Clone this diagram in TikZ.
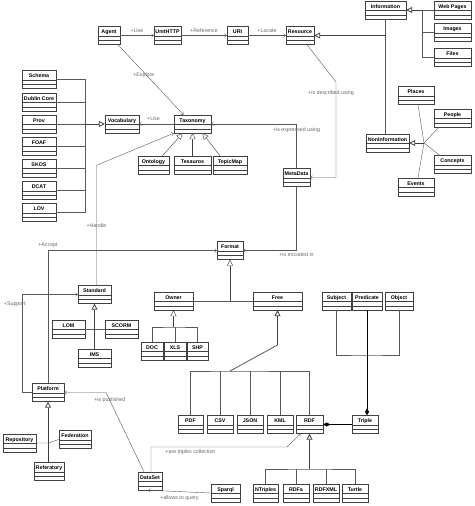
\documentclass[tikz,border=0pt]{standalone}
\usepackage{fontspec}
\setmainfont{Liberation Sans}
\usetikzlibrary{arrows.meta}
\tikzstyle{cls}=[
        draw = black!75,
        fill = white,
        inner xsep = 1pt,
        inner ysep = 1.5pt,
        text height = 5.8pt,
        text depth = 9.2pt,
        font = \fontsize{5.3}{6}\selectfont\bfseries,
        path picture = {\draw[black!75]
            ([yshift=-9.5pt]path picture bounding box.north west) -- ([yshift=-9.5pt]path picture bounding box.north east)
            ([yshift=4.2pt]path picture bounding box.south west) -- ([yshift=4.2pt]path picture bounding box.south east);}
    ]

\begin{document}
\begin{tikzpicture}[x=1pt, y=-1pt, line width=0.4pt,
        lnk/.style = {draw=black!65},
        assoc/.style = {draw=black!65, -{Straight Barb[length=2pt,width=3.5pt]}},
        gen/.style = {draw=black!75, -{Triangle[open,length=6pt,width=6pt,fill=white]}},
        comp/.style = {draw=black, -{Diamond[length=7pt,width=4pt]}},
        lbl/.style = {font=\fontsize{5.3}{6}\selectfont, text=black!60, inner sep=0pt}]
        \useasboundingbox (0,0) rectangle (474,506);

        % top row
        \node[cls, minimum width=22pt] (agent) at (109,35.5) {Agent};
        \node[cls, minimum width=27pt] (unithttp) at (167.5,35.5) {UnitHTTP};
        \node[cls, minimum width=21pt] (uri) at (237.5,35.5) {URI};
        \node[cls, minimum width=28pt] (resource) at (300,35.5) {Resource};

        \node[cls, minimum width=41pt] (information) at (385.5,10) {Information};
        \node[cls, minimum width=37pt] (webpages) at (452.5,10) {Web Pages};
        \node[cls, minimum width=37pt] (images) at (452.5,32.5) {Images};
        \node[cls, minimum width=37pt] (files) at (452.5,57.5) {Files};

        \node[cls, minimum width=36pt] (places) at (416,95.5) {Places};
        \node[cls, minimum width=37pt] (people) at (452.5,118) {People};
        \node[cls, minimum width=43pt] (noninfo) at (387.5,143) {NonInformation};
        \node[cls, minimum width=37pt] (concepts) at (452.5,164.5) {Concepts};
        \node[cls, minimum width=36pt] (events) at (416,187) {Events};

        % vocabularies
        \node[cls, minimum width=34pt] (schema) at (39,79.5) {Schema};
        \node[cls, minimum width=34pt] (dublin) at (39,102) {Dublin Core};
        \node[cls, minimum width=34pt] (prov) at (39,124) {Prov};
        \node[cls, minimum width=34pt] (foaf) at (39,146) {FOAF};
        \node[cls, minimum width=34pt] (skos) at (39,168) {SKOS};
        \node[cls, minimum width=34pt] (dcat) at (39,190.5) {DCAT};
        \node[cls, minimum width=34pt] (lov) at (39,212.5) {LOV};

        \node[cls, minimum width=34pt] (vocab) at (122,124) {Vocabulary};
        \node[cls, minimum width=37pt] (taxonomy) at (192.5,124) {Taxonomy};
        \node[cls, minimum width=31pt] (ontology) at (153.5,165) {Ontology};
        \node[cls, minimum width=37pt] (tesauros) at (192.5,165) {Tesauros};
        \node[cls, minimum width=34pt] (topicmap) at (230,165) {TopicMap};
        \node[cls, minimum width=27pt] (metadata) at (296.5,177.5) {MetaData};

        % formats
        \node[cls, minimum width=26pt] (format) at (230,250.5) {Format};
        \node[cls, minimum width=39pt] (owner) at (173.5,301) {Owner};
        \node[cls, minimum width=49pt] (free) at (277.5,301) {Free};
        \node[cls, minimum width=29pt] (subject) at (336.5,301) {Subject};
        \node[cls, minimum width=30pt] (predicate) at (367,301) {Predicate};
        \node[cls, minimum width=28pt] (object) at (399,301) {Object};

        \node[cls, minimum width=22pt] (doc) at (152,351) {DOC};
        \node[cls, minimum width=22pt] (xls) at (175,351) {XLS};
        \node[cls, minimum width=21pt] (shp) at (197.5,351) {SHP};

        \node[cls, minimum width=25pt] (pdf) at (190.5,424.5) {PDF};
        \node[cls, minimum width=26pt] (csv) at (220,424.5) {CSV};
        \node[cls, minimum width=26pt] (json) at (250,424.5) {JSON};
        \node[cls, minimum width=26pt] (kml) at (280,424.5) {KML};
        \node[cls, minimum width=27pt] (rdf) at (309.5,424.5) {RDF};
        \node[cls, minimum width=26pt] (triple) at (365,424.5) {Triple};

        \node[cls, minimum width=25pt] (ntriples) at (265.5,493) {NTriples};
        \node[cls, minimum width=26pt] (rdfa) at (296,493) {RDFa};
        \node[cls, minimum width=26pt] (rdfxml) at (326,493) {RDFXML};
        \node[cls, minimum width=26pt] (turtle) at (355,493) {Turtle};

        % standards and platforms
        \node[cls, minimum width=33pt] (standard) at (94.5,294.5) {Standard};
        \node[cls, minimum width=33pt] (lom) at (68.5,329) {LOM};
        \node[cls, minimum width=33pt] (scorm) at (121.5,329) {SCORM};
        \node[cls, minimum width=33pt] (ims) at (94.5,358) {IMS};

        \node[cls, minimum width=32pt] (platform) at (48,392.5) {Platform};
        \node[cls, minimum width=33pt] (repository) at (19.5,443) {Repository};
        \node[cls, minimum width=32pt] (federation) at (75,439.5) {Federation};
        \node[cls, minimum width=30pt] (referatory) at (49,471.5) {Referatory};
        \node[cls, minimum width=24pt] (dataset) at (150,481) {DataSet};
        \node[cls, minimum width=29pt] (sparql) at (225.5,493) {Sparql};

        % bus points
        \coordinate (vbus) at (85,124);
        \coordinate (ibus) at (422,10);
        \coordinate (nbus) at (424,143);
        \coordinate (obus) at (173.5,327);
        \coordinate (fbus) at (277.5,345);
        \coordinate (pbus) at (230,371);
        \coordinate (tbus) at (366,355);
        \coordinate (rbus) at (309.5,469);

        % associations
        \draw[assoc] (agent) -- (unithttp) node [lbl, midway, above=3pt] {+Use};
        \draw[assoc] (unithttp) -- (uri) node [lbl, midway, above=3pt] {+Reference};
        \draw[assoc] (uri) -- (resource) node [lbl, midway, above=3pt] {+Locate};
        \draw[assoc] ([xshift=9pt]agent.south) -- ([xshift=-9pt]taxonomy.north) node [lbl, pos=0.44, xshift=-3pt] {+Explore};
        \draw[assoc] (taxonomy) -- (vocab) node [lbl, midway, above=3pt, xshift=-3pt] {+Use};
        \draw[assoc] ([xshift=2pt]standard.north) -- node [lbl, pos=0.5] {+Handle} ++(0,-120) -- (taxonomy.south west);
        \draw[assoc] (metadata.north) |- node [lbl, pos=0.43] {+is expressed using} (taxonomy.east);
        \draw[assoc] ([xshift=7pt]resource.south) -- (336,82) |- node [lbl, pos=0.06, xshift=-5pt] {+is described using} (metadata.east);
        \draw[assoc] (metadata.south) |- node [lbl, pos=0.5, below=2pt] {+is encoded in} (format.east);
        \draw[assoc] (platform.north) |- node [lbl, pos=0.5, above=2.5pt] {+Accept} (format.west);
        \draw[assoc] (platform.west) -- ++(-10,0) |- node [lbl, pos=0.45, xshift=-7pt] {+Support} (standard.west);
        \draw[assoc] ([xshift=-6pt]dataset.north) -- node [lbl, pos=0.9] {+is published} (106,392.5) -- (platform.east);
        \draw[assoc] ([xshift=1pt]dataset.north) -- (151,447) -- node [lbl, pos=0.29, below=2.5pt] {+are triples collection} (287,447) -- ([xshift=-9pt]rdf.south);
        \draw[assoc] (sparql.west) -- ([xshift=-2pt]dataset.south) node [lbl, midway, below=4pt] {+allows to query};

        % generalizations
        \draw[lnk] (schema.east) -| (vbus);
        \draw[lnk] (lov.east) -| (vbus);
        \draw[lnk] (dublin.east) -- (dublin.east -| vbus);
        \draw[lnk] (prov.east) -- (prov.east -| vbus);
        \draw[lnk] (foaf.east) -- (foaf.east -| vbus);
        \draw[lnk] (skos.east) -- (skos.east -| vbus);
        \draw[lnk] (dcat.east) -- (dcat.east -| vbus);
        \draw[gen, thick] (vbus) -- (vocab.west);

        \draw[gen] ([xshift=9pt]ontology.north) -- ([xshift=-10pt]taxonomy.south);
        \draw[gen] (tesauros) -- (taxonomy);
        \draw[gen] ([xshift=-10pt]topicmap.north) -- ([xshift=10pt]taxonomy.south);

        \draw[lnk] (information.south) -- (information.south |- noninfo.north);
        \draw[gen, thick] (information.south |- resource.east) -- (resource.east);

        \draw[lnk, thick] (files.west) -| (ibus);
        \draw[lnk] (images.west) -- (images.west -| ibus);
        \draw[lnk] (webpages.west) -- (ibus);
        \draw[gen, thick] (ibus) -- (information.east);

        \draw[lnk] ([xshift=2pt]places.south) -- (nbus);
        \draw[lnk] ([xshift=2pt]events.north) -- (nbus);
        \draw[lnk] ([xshift=5pt]people.south west) -- (nbus);
        \draw[lnk] ([xshift=6pt]concepts.north west) -- (nbus);
        \draw[gen, thick] (nbus) -- (noninfo.east);

        \draw[lnk] (owner.east) -- (free.west);
        \draw[gen] (format.south |- owner.east) -- (format.south);

        \draw[lnk] (doc.north) |- (obus) -| (shp.north);
        \draw[lnk] (xls.north) -- (xls.north |- obus);
        \draw[gen] (obus) -- (owner.south);

        \draw[lnk] (pdf.north) |- (pbus) -| (rdf.north);
        \draw[lnk] (csv.north) -- (csv.north |- pbus);
        \draw[lnk] (json.north) -- (json.north |- pbus);
        \draw[lnk] (kml.north) -- (kml.north |- pbus);
        \draw[lnk, thick] (pbus) -- (fbus);
        \draw[gen, thick] (fbus) -- (free.south);

        \draw[lnk] (subject.south) |- (tbus) -| (object.south);
        \draw[comp, thick] (predicate.south) -- (predicate.south |- triple.north);
        \draw[comp] (triple.west) -- (rdf.east);

        \draw[lnk] (ntriples.north) |- (rbus) -| (turtle.north);
        \draw[lnk] (rdfa.north) -- (rdfa.north |- rbus);
        \draw[lnk] (rdfxml.north) -- (rdfxml.north |- rbus);
        \draw[gen, thick] (rbus) -- (rdf.south);

        \draw[lnk] (lom.east) -- (scorm.west);
        \draw[gen, thick] (ims.north) -- (standard.south);

        \draw[lnk] (repository.east) -- (platform.south |- repository.east) -- (federation.west);
        \draw[gen, thick] (platform.south |- referatory.north) -- (platform.south);
    \end{tikzpicture}
\end{document}
